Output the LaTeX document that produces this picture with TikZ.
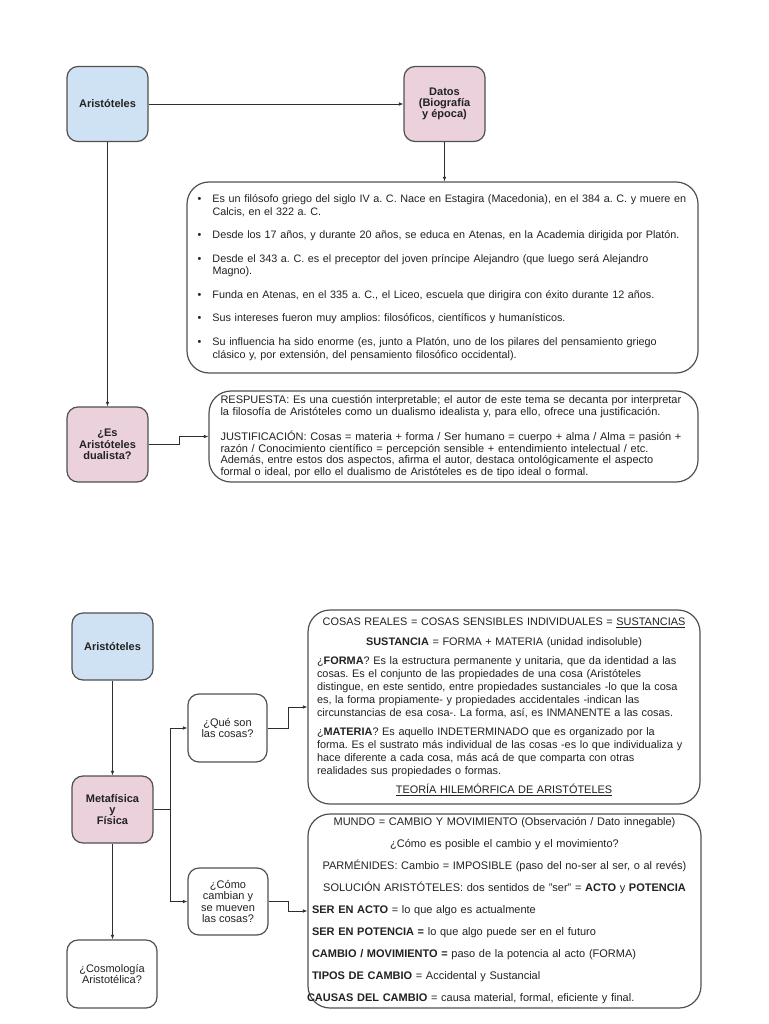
\documentclass[tikz,border=0pt]{standalone}
\usepackage{fontspec}
\setmainfont{Liberation Sans}
\usepackage{tikz}
\usetikzlibrary{arrows.meta}
\frenchspacing
\definecolor{cardblue}{HTML}{CFE2F3}
\definecolor{cardpink}{HTML}{EAD1DC}
\definecolor{cardline}{HTML}{505050}
\definecolor{connline}{HTML}{2E2E2E}
\definecolor{ink}{HTML}{222222}
\tikzset{card/.style = {draw = cardline, line width = 1.2pt, rounded corners = 11pt,
                        inner sep = 0, align = center, text = ink},
         bluebox/.style = {card, fill = cardblue, font = \fontsize{11}{11.3}\selectfont\bfseries},
         pinkbox/.style = {card, fill = cardpink, font = \fontsize{11}{11.3}\selectfont\bfseries},
         plainbox/.style = {card, fill = white, font = \fontsize{11}{11.3}\selectfont},
         textbox/.style = {draw = cardline, line width = 1.2pt, rounded corners = 22pt,
                           inner sep = 0, align = left, text = ink},
         conn/.style = {draw = connline, line width = 0.8pt, -{Latex[length = 4.5pt, width = 3.6pt]}}}
\newcommand{\ctr}[1]{\makebox[\hsize]{#1}}
\newcommand{\itm}{\makebox[15pt][l]{\textbullet}}
\newcommand{\cont}{\hspace*{15pt}}

\begin{document}
\begin{tikzpicture}[x = 1pt, y = -1pt]
    \fill [white] (0, 0) rectangle (768, 1024);
    \useasboundingbox (0, 0) rectangle (768, 1024);

    \node [bluebox, minimum width = 81pt, minimum height = 75pt] (aris) at (107.5, 104) {Aristóteles};
    \node [pinkbox, minimum width = 81pt, minimum height = 75pt] (datos) at (444.5, 104) {Datos\\(Biografía\\y época)};
    \node [textbox, minimum width = 511pt, minimum height = 191pt, text width = 490pt,
           font = \fontsize{10.8}{12.7}\selectfont] (bio) at (442.5, 277.5) {%
        \itm Es un filósofo griego del siglo IV a. C. Nace en Estagira (Macedonia), en el 384 a. C. y muere en\\
        \cont Calcis, en el 322 a. C.\\[10.8pt]
        \itm Desde los 17 años, y durante 20 años, se educa en Atenas, en la Academia dirigida por Platón.\\[10.8pt]
        \itm Desde el 343 a. C. es el preceptor del joven príncipe Alejandro (que luego será Alejandro\\
        \cont Magno).\\[10.8pt]
        \itm Funda en Atenas, en el 335 a. C., el Liceo, escuela que dirigira con éxito durante 12 años.\\[10.8pt]
        \itm Sus intereses fueron muy amplios: filosóficos, científicos y humanísticos.\\[10.8pt]
        \itm Su influencia ha sido enorme (es, junto a Platón, uno de los pilares del pensamiento griego\\
        \cont clásico y, por extensión, del pensamiento filosófico occidental).};
    \node [pinkbox, minimum width = 81pt, minimum height = 75pt] (dual) at (107.5, 444.5) {¿Es\\Aristóteles\\dualista?};
    \node [textbox, minimum width = 489pt, minimum height = 91pt, text width = 466pt,
           font = \fontsize{11}{11.5}\selectfont] (resp) at (453.5, 436.5) {%
        RESPUESTA: Es una cuestión interpretable; el autor de este tema se decanta por interpretar\\
        la filosofía de Aristóteles como un dualismo idealista y, para ello, ofrece una justificación.\\[12.5pt]
        JUSTIFICACIÓN: Cosas = materia + forma / Ser humano = cuerpo + alma / Alma = pasión +\\
        razón / Conocimiento científico = percepción sensible + entendimiento intelectual / etc.\\
        Además, entre estos dos aspectos, afirma el autor, destaca ontológicamente el aspecto\\
        formal o ideal, por ello el dualismo de Aristóteles es de tipo ideal o formal.};

    \draw [conn] (aris.east) -- (datos.west);
    \draw [conn] (datos.south) -- (datos.south |- bio.north);
    \draw [conn] (aris.south) -- (dual.north);
    \draw [conn] (dual.east) -- ++(31, 0) |- (resp.west);

    \node [bluebox, minimum width = 81pt, minimum height = 67pt] (aris2) at (112.5, 646.5) {Aristóteles};
    \node [pinkbox, minimum width = 81pt, minimum height = 67pt] (meta) at (112.5, 809.5) {Metafísica\\y\\Física};
    \node [plainbox, minimum width = 90pt, minimum height = 68pt] (cosmo) at (112, 974) {¿Cosmología\\Aristotélica?};
    \node [plainbox, minimum width = 79pt, minimum height = 68pt] (que) at (227.5, 728) {¿Qué son\\las cosas?};
    \node [plainbox, minimum width = 80pt, minimum height = 67pt] (como) at (228, 901.5) {¿Cómo\\cambian y\\se mueven\\las cosas?};
    \node [textbox, minimum width = 392pt, minimum height = 194pt, text width = 374pt,
           font = \fontsize{10.9}{12.9}\selectfont] (cosas) at (504, 707) {%
        \ctr{COSAS REALES = COSAS SENSIBLES INDIVIDUALES = \underline{SUSTANCIAS}}\\[6.5pt]
        \ctr{\textbf{SUSTANCIA} = FORMA + MATERIA (unidad indisoluble)}\\[6.5pt]
        ¿\textbf{FORMA}? Es la estructura permanente y unitaria, que da identidad a las\\
        cosas. Es el conjunto de las propiedades de una cosa (Aristóteles\\
        distingue, en este sentido, entre propiedades sustanciales -lo que la cosa\\
        es, la forma propiamente- y propiedades accidentales -indican las\\
        circunstancias de esa cosa-. La forma, así, es INMANENTE a las cosas.\\[6.5pt]
        ¿\textbf{MATERIA}? Es aquello INDETERMINADO que es organizado por la\\
        forma. Es el sustrato más individual de las cosas -es lo que individualiza y\\
        hace diferente a cada cosa, más acá de que comparta con otras\\
        realidades sus propiedades o formas.\\[6.5pt]
        \ctr{\underline{TEORÍA HILEMÓRFICA DE ARISTÓTELES}}};
    \node [textbox, minimum width = 393pt, minimum height = 194pt, text width = 385pt,
           font = \fontsize{11}{22}\selectfont] (mundo) at (504.5, 911) {%
        \ctr{MUNDO = CAMBIO Y MOVIMIENTO (Observación / Dato innegable)}\\
        \ctr{¿Cómo es posible el cambio y el movimiento?}\\
        \ctr{PARMÉNIDES: Cambio = IMPOSIBLE (paso del no-ser al ser, o al revés)}\\
        \ctr{SOLUCIÓN ARISTÓTELES: dos sentidos de "ser" = \textbf{ACTO} y \textbf{POTENCIA}}\\
        \textbf{SER EN ACTO} = lo que algo es actualmente\\
        \textbf{SER EN POTENCIA =} lo que algo puede ser en el futuro\\
        \textbf{CAMBIO / MOVIMIENTO =} paso de la potencia al acto (FORMA)\\
        \textbf{TIPOS DE CAMBIO} = Accidental y Sustancial\\
        \hspace*{-5pt}\textbf{CAUSAS DEL CAMBIO} = causa material, formal, eficiente y final.};

    \draw [conn] (aris2.south) -- (meta.north);
    \draw [conn] (meta.south) -- (meta.south |- cosmo.north);
    \draw [line width = 0.8pt, connline] (meta.east) -- ++(17, 0) coordinate (fork);
    \draw [conn] (fork) |- (que.west);
    \draw [conn] (fork) |- (como.west);
    \draw [conn] (que.east) -- ++(21, 0) |- (cosas.west);
    \draw [conn] (como.east) -- ++(20, 0) |- (mundo.west);
\end{tikzpicture}
\end{document}
